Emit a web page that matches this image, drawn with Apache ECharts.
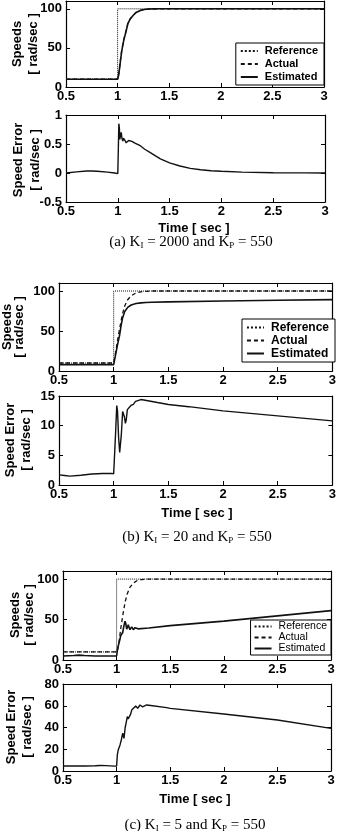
<!DOCTYPE html>
<html><head><meta charset="utf-8">
<script src="https://cdn.jsdelivr.net/npm/echarts@6/dist/echarts.min.js"></script>
<style>html,body{margin:0;padding:0;background:#fff}#c{width:339px;height:831px}</style>
</head><body><div id="c"></div>
<script>
// ---------- DATA ----------
const xTickMin = 0.5, xTickMax = 3, xTickStep = 0.5;
const legendNames = ['Reference', 'Actual', 'Estimated'];

// reference speed (same step in all three cases)
const refT = [0.5, 1.0, 1.0, 3.0];
const refV = [10, 10, 100, 100];

// (a) KI = 2000, KP = 550
const aSpeedT    = [0.5, 1.0, 1.01, 1.02, 1.03, 1.04, 1.06, 1.08, 1.10, 1.12, 1.15, 1.18, 1.22, 1.26, 1.30, 1.35, 1.40, 3.0];
const aActual    = [10, 10, 16, 26, 37, 47, 61, 71, 82, 87, 92, 95.5, 98, 99.2, 99.7, 99.9, 100, 100];
const aEstimated = [10, 10, 15, 25, 36, 46, 60, 70, 81, 86.5, 91.5, 95.3, 97.9, 99.1, 99.7, 99.9, 100, 100];
const aErrT = [0.5, 0.6, 0.7, 0.75, 0.8, 0.9, 0.97, 1.0, 1.005, 1.01, 1.015, 1.02, 1.027, 1.033, 1.04, 1.049, 1.055, 1.062, 1.07, 1.081, 1.09, 1.104, 1.12, 1.136, 1.17, 1.217, 1.26, 1.314, 1.36, 1.411, 1.5, 1.6, 1.7, 1.8, 1.9, 2.0, 2.2, 2.5, 2.8, 3.0];
const aErr  = [0, 0.02, 0.035, 0.035, 0.03, 0.015, 0.0, -0.01, 0.4, 0.85, 0.78, 0.58, 0.66, 0.7, 0.6, 0.55, 0.6, 0.62, 0.56, 0.52, 0.55, 0.56, 0.55, 0.545, 0.51, 0.47, 0.41, 0.35, 0.3, 0.245, 0.175, 0.12, 0.08, 0.055, 0.04, 0.03, 0.015, 0.005, 0.002, 0.0];

// (b) KI = 20, KP = 550
const bSpeedT    = [0.5, 1.0, 1.005, 1.02, 1.04, 1.053, 1.068, 1.082, 1.10, 1.128, 1.16, 1.204, 1.25, 1.294, 1.35, 1.5, 2.0, 2.5, 3.0];
const bActual    = [10, 10, 12, 25, 42, 52, 63, 72, 81, 89, 94, 97.6, 99, 99.6, 100, 100, 100, 100, 100];
const bEstimated = [8, 8, 10, 22, 36, 44, 57, 66.7, 74, 79.5, 82.5, 84.3, 85.2, 85.6, 85.9, 86.4, 87.5, 88.4, 89.2];
const bErrT = [0.5, 0.55, 0.6, 0.7, 0.8, 0.9, 0.98, 1.0, 1.007, 1.018, 1.028, 1.035, 1.045, 1.055, 1.062, 1.07, 1.082, 1.089, 1.098, 1.107, 1.115, 1.125, 1.137, 1.158, 1.18, 1.2, 1.218, 1.249, 1.3, 1.4, 1.5, 1.687, 2.0, 2.5, 3.0];
const bErr  = [1.7, 1.6, 1.5, 1.65, 1.85, 1.95, 1.95, 1.9, 2.0, 9, 13.4, 12.5, 8, 5.5, 5.3, 8.5, 12.4, 12.6, 11.5, 10.4, 11, 12.7, 12.9, 13.4, 13.6, 14.1, 14.3, 14.4, 14.25, 13.9, 13.56, 13.2, 12.5, 11.65, 10.8];

// (c) KI = 5, KP = 550
const cSpeedT = [0.5, 1.0, 1.01, 1.02, 1.04, 1.06, 1.08, 1.10, 1.125, 1.16, 1.19, 1.23, 1.3, 3.0];
const cActual = [10, 10, 13, 20, 40, 57, 72, 82, 90, 95.5, 98, 99.3, 100, 100];
const cEstT = [0.5, 0.6, 0.65, 0.7, 0.8, 0.95, 1.0, 1.007, 1.016, 1.03, 1.038, 1.048, 1.057, 1.065, 1.078, 1.086, 1.094, 1.1, 1.109, 1.117, 1.125, 1.133, 1.141, 1.149, 1.156, 1.164, 1.172, 1.18, 1.187, 1.2, 1.218, 1.3, 1.5, 2.0, 2.5, 3.0];
const cEstimated = [5, 5.5, 6, 5.5, 5, 5, 5, 12, 17.6, 25, 30, 31, 34, 40, 48, 45, 38, 39, 43.5, 40, 37.5, 39, 41, 39, 37.5, 38.5, 40, 39, 38, 38.5, 39, 39.5, 42.5, 48, 54.5, 61];
const cErrT = [0.5, 0.7, 0.8, 0.85, 0.9, 0.98, 1.0, 1.007, 1.015, 1.032, 1.045, 1.057, 1.069, 1.08, 1.088, 1.1, 1.108, 1.116, 1.13, 1.141, 1.156, 1.178, 1.197, 1.218, 1.243, 1.28, 1.3, 1.467, 1.5, 2.0, 2.5, 3.0];
const cErr  = [4.6, 4.6, 4.8, 5.0, 4.9, 4.5, 4.5, 15, 19.3, 24, 29, 34.7, 30, 40, 43.8, 50, 48, 47, 52, 56, 54.5, 59.8, 57.6, 60.7, 59, 60.7, 60.5, 58.3, 57.6, 52.4, 46.9, 39.2];

// y-axis ranges [min, max, interval]
const speedRange = [0, 110, 50];
const aErrRange = [-0.5, 1, 0.5];
const bErrRange = [0, 15, 5];
const cErrRange = [0, 80, 20];

const yTitleTop = ['Speeds', '[ rad/sec ]'];
const yTitleBottom = ['Speed Error', '[ rad/sec ]'];
const xTitle = 'Time [ sec ]';
const captions = [
  ['(a) K', 'I', ' = 2000 and K', 'P', ' = 550'],
  ['(b) K', 'I', ' = 20 and K', 'P', ' = 550'],
  ['(c) K', 'I', ' = 5 and K', 'P', ' = 550']
];

// ---------- LAYOUT ----------
const zip = (t, v) => t.map((x, i) => [x, v[i]]);
const SANS = '"Liberation Sans", Arial, sans-serif';
const SERIF = '"Liberation Serif", "Times New Roman", serif';
const INK = '#000';
const LINE = '#111';

const grids = [
  [66, 1, 258, 86],
  [66, 115, 259, 87],
  [59, 283, 276, 88],
  [59, 396, 276, 89],
  [63, 571, 268, 89],
  [63, 684, 268, 87]
];
const yRanges = [speedRange, aErrRange, speedRange, bErrRange, speedRange, cErrRange];

const option = {
  animation: false,
  backgroundColor: '#fff',
  grid: grids.map(g => ({left: g[0], top: g[1], width: g[2], height: g[3], show: false})),
  xAxis: [], yAxis: [], series: [], legend: [], graphic: []
};

grids.forEach((g, i) => {
  const tick = {show: true, inside: true, length: 4, lineStyle: {color: INK, width: 1}};
  const axLine = {show: true, onZero: false, lineStyle: {color: INK, width: 1.2}};
  const lbl = {color: INK, fontWeight: 'bold', fontSize: 13, fontFamily: SANS};
  ['bottom', 'top'].forEach(pos => {
    option.xAxis.push({
      type: 'value', gridIndex: i, position: pos, min: xTickMin, max: xTickMax, interval: xTickStep,
      axisLine: axLine, axisTick: tick, splitLine: {show: false},
      axisLabel: Object.assign({show: pos === 'bottom', margin: 3, formatter: v => String(v)}, lbl)
    });
  });
  const r = yRanges[i];
  ['left', 'right'].forEach(pos => {
    option.yAxis.push({
      type: 'value', gridIndex: i, position: pos, min: r[0], max: r[1], interval: r[2],
      axisLine: axLine, axisTick: tick, splitLine: {show: false},
      axisLabel: Object.assign({show: pos === 'left', margin: 4,
        formatter: v => (v > r[1] - 1e-9 && r[1] === 110) ? '' : String(v)}, lbl)
    });
  });
});

function addLine(gi, name, data, type, width) {
  option.series.push({
    type: 'line', name: name, xAxisIndex: gi * 2, yAxisIndex: gi * 2, data: data,
    symbol: 'none', showSymbol: false, silent: true, z: 3,
    lineStyle: {color: LINE, width: width, type: type}, itemStyle: {color: LINE}
  });
}
const speedPanels = [
  [0, aSpeedT, aActual, aSpeedT, aEstimated],
  [2, bSpeedT, bActual, bSpeedT, bEstimated],
  [4, cSpeedT, cActual, cEstT, cEstimated]
];
speedPanels.forEach(p => {
  addLine(p[0], legendNames[0], zip(refT, refV), 'dotted', 1);
  addLine(p[0], legendNames[1], zip(p[1], p[2]), [4, 3], 1.3);
  addLine(p[0], legendNames[2], zip(p[3], p[4]), 'solid', 1.6);
});
addLine(1, 'Speed Error', zip(aErrT, aErr), 'solid', 1.4);
addLine(3, 'Speed Error', zip(bErrT, bErr), 'solid', 1.4);
addLine(5, 'Speed Error', zip(cErrT, cErr), 'solid', 1.4);

const legendCfg = [
  {right: 15, top: 43, fs: 11, fw: 'bold', lh: 12, gap: 1, pad: [2, 6, 2, 4]},
  {right: 4, top: 319, fs: 12, fw: 'bold', lh: 13, gap: 0, pad: [2, 6, 2, 4]},
  {right: 8, top: 620, fs: 10.5, fw: 'normal', lh: 11, gap: 0, pad: [1, 4, 1, 3]}
];
legendCfg.forEach(l => {
  option.legend.push({
    data: legendNames, orient: 'vertical', right: l.right, top: l.top, itemGap: l.gap,
    itemWidth: 17, itemHeight: 8, padding: l.pad, selectedMode: false,
    borderColor: INK, borderWidth: 1, backgroundColor: '#fff',
    itemStyle: {color: 'rgba(0,0,0,0)', borderWidth: 0, opacity: 0},
    textStyle: {color: INK, fontSize: l.fs, fontWeight: l.fw, fontFamily: SANS, lineHeight: l.lh, padding: [0, 0, 0, 2]}
  });
});

// y titles (two lines each)
const yTitles = [
  [yTitleTop, 17, 33, 44],
  [yTitleBottom, 18, 35, 160],
  [yTitleTop, 7, 19, 327],
  [yTitleBottom, 10.5, 26, 440],
  [yTitleTop, 15.5, 29.5, 615],
  [yTitleBottom, 11, 27.5, 727]
];
yTitles.forEach(t => {
  [0, 1].forEach(k => {
    option.graphic.push({
      type: 'text', x: k === 0 ? t[1] : t[2], y: t[3], rotation: Math.PI / 2, silent: true,
      style: {text: t[0][k], fill: INK, font: 'bold 13px ' + SANS, textAlign: 'center', textVerticalAlign: 'middle'}
    });
  });
});
// x titles
[[194, 228], [197, 513], [195, 799]].forEach(p => {
  option.graphic.push({
    type: 'text', x: p[0], y: p[1], silent: true,
    style: {text: xTitle, fill: INK, font: 'bold 13px ' + SANS, textAlign: 'center', textVerticalAlign: 'middle'}
  });
});
// captions
[[191, 242], [197, 537], [195, 825]].forEach((p, i) => {
  const c = captions[i];
  option.graphic.push({
    type: 'text', x: p[0], y: p[1], silent: true,
    style: {
      text: c[0] + '{s|' + c[1] + '}' + c[2] + '{s|' + c[3] + '}' + c[4],
      fill: INK, fontFamily: SERIF, fontSize: 15, lineHeight: 17,
      textAlign: 'center', textVerticalAlign: 'middle',
      rich: {s: {fontFamily: SERIF, fontSize: 9, lineHeight: 9, verticalAlign: 'bottom', fill: INK, padding: [0, 0, 0, 0]}}
    }
  });
});

const chart = echarts.init(document.getElementById('c'), null, {renderer: 'canvas'});
chart.setOption(option);
</script>
</body></html>
